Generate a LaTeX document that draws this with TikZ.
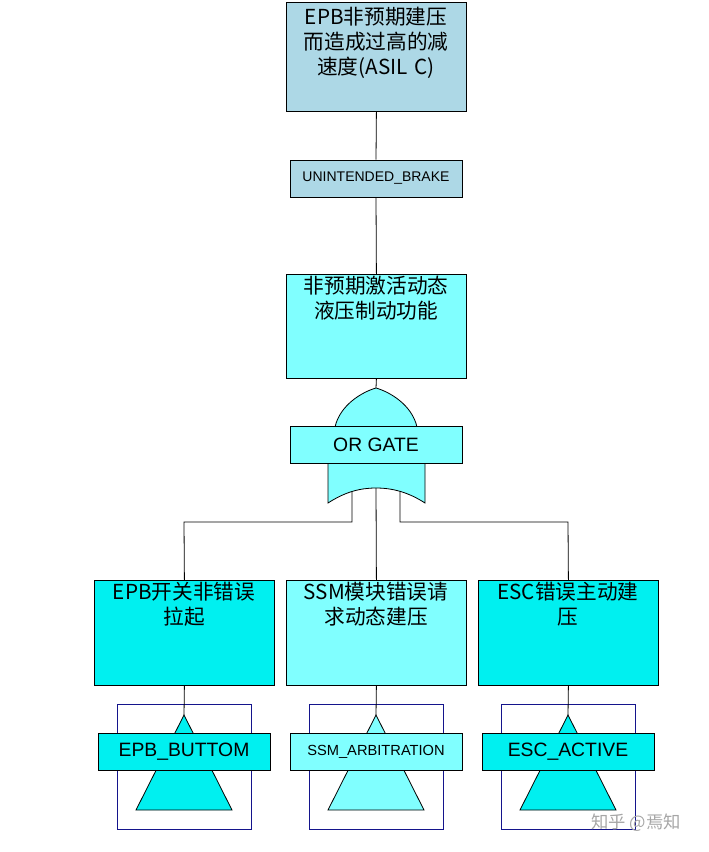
\documentclass[tikz,border=0pt]{standalone}
\usepackage{fontspec}
\setmainfont{Liberation Sans}
\newfontfamily\cjk{Noto Sans CJK SC}
\begin{document}
\begin{tikzpicture}[x=0.75pt,y=-0.75pt,
  box/.style={draw=black,line width=0.6pt,minimum width=180*0.75pt,minimum height=105*0.75pt,inner sep=0pt,anchor=north west},
  txt/.style={anchor=north,inner sep=0pt,text width=176*0.75pt,align=center,font=\cjk\fontsize{15.5}{18.8}\selectfont},
  lab/.style={draw=black,line width=0.6pt,minimum width=172*0.75pt,minimum height=37*0.75pt,inner sep=1pt},
  sq/.style={draw={rgb,255:red,20;green,20;blue,140},line width=0.6pt,minimum width=134*0.75pt,minimum height=125*0.75pt},
  ln/.style={draw=black,line width=0.6pt}]
\definecolor{lb}{RGB}{173,216,230}
\definecolor{cyl}{RGB}{128,255,255}
\definecolor{cyb}{RGB}{0,240,240}
\useasboundingbox (0,0) rectangle (708,852);
% top
\node[box,fill=lb,minimum height=109*0.75pt] (top) at (286,2) {};
\node[txt] (toptxt) at (376,7) {EPB非预期建压\\而造成过高的减\\速度(ASIL C)};
\node[lab,fill=lb,font=\fontsize{10.5}{12}\selectfont] (ub) at (376,178.5) {UNINTENDED\_BRAKE};
\node[box,fill=cyl,minimum height=104*0.75pt] (mid) at (286,274) {};
\node[txt] (midtxt) at (376,276) {非预期激活动态\\液压制动功能};
\draw[ln] (top.south) -- (ub.north);
\draw[ln] (ub.south) -- (mid.north);
% OR gate
\coordinate (apex) at (376,388);
\draw[ln] (mid.south) -- (apex);
\draw[line width=0.6pt,fill=cyl] (335,427) .. controls (340,405) and (362,392) .. (apex) .. controls (390,392) and (412,405) .. (417,427) -- cycle;
\draw[line width=0.6pt,fill=cyl] (328,462) -- (328,503) .. controls (345,492) and (360,488) .. (376,488) .. controls (392,488) and (408,492) .. (425,503) -- (425,462) -- cycle;
\node[lab,fill=cyl,font=\fontsize{14.5}{16}\selectfont] (gate) at (376,444.5) {OR GATE};
% bottom boxes
\node[box,fill=cyb] (b1) at (94,580) {};
\node[txt] (b1t) at (184,582) {EPB开关非错误\\拉起};
\node[box,fill=cyl] (b2) at (286,580) {};
\node[txt] (b2t) at (376,582) {SSM模块错误请\\求动态建压};
\node[box,fill=cyb] (b3) at (478,580) {};
\node[txt] (b3t) at (568,582) {ESC错误主动建\\压};
\coordinate (g1) at (352,491.5);
\coordinate (g2) at (376,488);
\coordinate (g3) at (400,491.5);
\draw[ln] (g1) -- (352,522) -- (184,522) -- (b1.north);
\draw[ln] (g2) -- (b2.north);
\draw[ln] (g3) -- (400,522) -- (568,522) -- (b3.north);
% basic events
\foreach \i/\cx/\txt/\col/\fs in {1/184/EPB\_BUTTOM/cyb/14.5, 2/376/SSM\_ARBITRATION/cyl/11, 3/568/ESC\_ACTIVE/cyb/14.5}{
  \node[sq] (s\i) at (\cx,766.5) {};
  \coordinate (t\i) at (\cx,715);
  \draw[line width=0.6pt,fill=\col] (t\i) -- (\cx+48,810) -- (\cx-48,810) -- cycle;
  \node[lab,fill=\col,font=\fontsize{\fs}{16}\selectfont] (e\i) at (\cx,751.5) {\txt};
}
\draw[ln] (b1.south) -- (t1);
\draw[ln] (b2.south) -- (t2);
\draw[ln] (b3.south) -- (t3);
\node[text=gray!70,font=\cjk\fontsize{13}{14}\selectfont] (wm) at (636,823) {知乎 @焉知};
\end{tikzpicture}
\end{document}
